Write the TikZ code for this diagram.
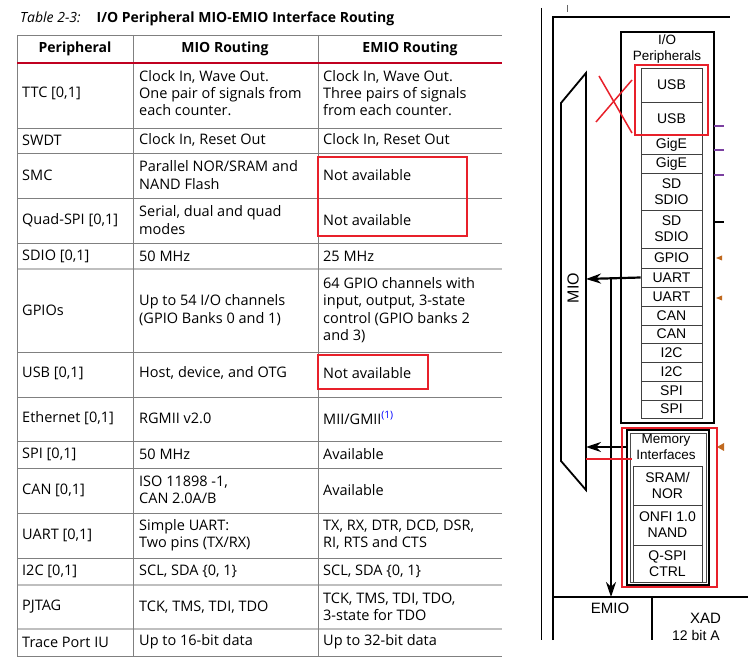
\documentclass[tikz,border=0pt]{standalone}
\usepackage{fontspec}
\setmainfont{Open Sans}
\newfontfamily\arialf{Liberation Sans}
\usetikzlibrary{arrows.meta}
\definecolor{hred}{HTML}{E8202A}
\definecolor{tred}{HTML}{C00020}
\definecolor{tgray}{HTML}{808080}
\definecolor{purp}{HTML}{7B3FA0}
\definecolor{oran}{HTML}{C06A20}
\tikzset{
 cell/.style={anchor=west,align=left,inner sep=0pt,font=\fontsize{14.5}{17.3}\selectfont},
 head/.style={inner sep=0pt,font=\bfseries\fontsize{14}{16}\selectfont},
 tl/.style={tgray,line width=0.8pt},
 hbox/.style={hred,line width=2.2pt},
 blk/.style={black,line width=1.8pt},
 cbox/.style={draw=black!75,line width=0.8pt,inner sep=0pt,align=center,font=\arialf\fontsize{14}{16}\selectfont},
 dl/.style={font=\arialf\fontsize{13.5}{15.5}\selectfont,inner sep=0pt,align=center},
 arr/.style={-{Stealth[length=15pt,width=10pt]},line width=2.2pt}
}
\begin{document}
\begin{tikzpicture}[x=1pt,y=-1pt]
\useasboundingbox (0,0) rectangle (748,668);
\fill[white] (0,0) rectangle (748,668);
% title
\node[anchor=west,inner sep=0pt,font=\fontsize{14}{16}\selectfont] (title) at (20,19) {\textit{Table 2-3:}\hspace{16pt}\textbf{I/O Peripheral MIO-EMIO Interface Routing}};
% table grid
\draw[tl] (17,35) -- (502,35);
\foreach \y in {128,153,198,243,352,397,441,468,513,558,656} \draw[tl] (17,\y) -- (502,\y);
\foreach \y in {269,585,629} \draw[black!25,line width=2pt] (17,\y) -- (502,\y);
\draw[tl] (17,35) -- (17,656);
\draw[tl] (133,35) -- (133,656);
\draw[tl] (318,35) -- (318,656);
\draw[tred,line width=2pt] (17,63) -- (502,63);
\node[head] (h1) at (75,49) {Peripheral};
\node[head] (h2) at (225,49) {MIO Routing};
\node[head] (h3) at (410,49) {EMIO Routing};
% rows
\node[cell] (a1) at (22,93) {TTC [0,1]};
\node[cell] (b1) at (139,93) {Clock In, Wave Out.\\One pair of signals from\\each counter.};
\node[cell] (c1) at (323,93) {Clock In, Wave Out.\\Three pairs of signals\\from each counter.};
\node[cell] (a2) at (22,140) {SWDT};
\node[cell] (b2) at (139,140) {Clock In, Reset Out};
\node[cell] (c2) at (323,140) {Clock In, Reset Out};
\node[cell] (a3) at (22,175) {SMC};
\node[cell] (b3) at (139,175) {Parallel NOR/SRAM and\\NAND Flash};
\node[cell] (c3) at (323,175) {Not available};
\node[cell] (a4) at (22,220) {Quad-SPI [0,1]};
\node[cell] (b4) at (139,220) {Serial, dual and quad\\modes};
\node[cell] (c4) at (323,220) {Not available};
\node[cell] (a5) at (22,256) {SDIO [0,1]};
\node[cell] (b5) at (139,256) {50 MHz};
\node[cell] (c5) at (323,256) {25 MHz};
\node[cell] (a6) at (22,310) {GPIOs};
\node[cell] (b6) at (139,310) {Up to 54 I/O channels\\(GPIO Banks 0 and 1)};
\node[cell] (c6) at (323,310) {64 GPIO channels with\\input, output, 3-state\\control (GPIO banks 2\\and 3)};
\node[cell] (a7) at (22,373) {USB [0,1]};
\node[cell] (b7) at (139,373) {Host, device, and OTG};
\node[cell] (c7) at (323,373) {Not available};
\node[cell] (a8) at (22,418) {Ethernet [0,1]};
\node[cell] (b8) at (139,418) {RGMII v2.0};
\node[cell] (c8) at (323,418) {MII/GMII\textsuperscript{\color{blue}(1)}};
\node[cell] (a9) at (22,454) {SPI [0,1]};
\node[cell] (b9) at (139,454) {50 MHz};
\node[cell] (c9) at (323,454) {Available};
\node[cell] (a10) at (22,490) {CAN [0,1]};
\node[cell] (b10) at (139,490) {ISO 11898 -1,\\CAN 2.0A/B};
\node[cell] (c10) at (323,490) {Available};
\node[cell] (a11) at (22,535) {UART [0,1]};
\node[cell] (b11) at (139,535) {Simple UART:\\Two pins (TX/RX)};
\node[cell] (c11) at (323,535) {TX, RX, DTR, DCD, DSR,\\RI, RTS and CTS};
\node[cell] (a12) at (22,571) {I2C [0,1]};
\node[cell] (b12) at (139,571) {SCL, SDA \{0, 1\}};
\node[cell] (c12) at (323,571) {SCL, SDA \{0, 1\}};
\node[cell] (a13) at (22,607) {PJTAG};
\node[cell] (b13) at (139,607) {TCK, TMS, TDI, TDO};
\node[cell] (c13) at (323,607) {TCK, TMS, TDI, TDO,\\3-state for TDO};
\node[cell] (a14) at (22,642) {Trace Port IU};
\node[cell] (b14) at (139,642) {Up to 16-bit data};
\node[cell] (c14) at (323,642) {Up to 32-bit data};
\draw[hbox] (318,157) rectangle (467,236);
\draw[hbox] (318,355) rectangle (428,389);
% ---- right diagram
\draw[black,line width=1pt] (541,8) -- (541,640);
\draw[blk] (553,640) -- (553,17) -- (730,17);
\draw[black!60,line width=0.6pt] (567,5) -- (567,12);
\draw[blk] (621,423) -- (621,32) -- (714,32) -- (714,423) -- cycle;
\node[dl] (iop) at (667,49) {I/O\\Peripherals};
\foreach \n/\t/\a/\b in {u1/USB/68/102,u2/USB/102/135,g1/GigE/135/154,g2/GigE/154/173,s1/SD\\SDIO/173/210,s2/SD\\SDIO/210/248,gp/GPIO/248/268,ua1/UART/268/287,ua2/UART/287/306,c1/CAN/306/325,c2/CAN/325/343,i1/I2C/343/362,i2/I2C/362/381,sp1/SPI/381/400,sp2/SPI/400/418}
  \node[cbox,minimum width=61pt,minimum height={\b-\a}] (p\n) at (671.5,{(\a+\b)/2}) {\t};
% MIO shape
\draw[blk] (561,461) -- (561,103) -- (586,73) -- (586,490) -- cycle;
\node[dl,rotate=90,font=\arialf\fontsize{16}{18}\selectfont] (mio) at (573,288) {MIO};
\coordinate (mioU) at (586,279);
\coordinate (mioM) at (586,447);
\draw[arr] (pua1.west) -- (mioU);
% memory box
\draw[blk] (627,430) rectangle (709,585);
\draw[black!70,line width=0.8pt] (630,433) rectangle (706,582);
\node[dl] (mem) at (666,447) {Memory\\Interfaces};
\node[cbox,minimum width=69pt,minimum height=39pt] (sram) at (667.5,485.5) {SRAM/\\NOR};
\node[cbox,minimum width=69pt,minimum height=40pt] (onfi) at (667.5,525) {ONFI 1.0\\NAND};
\node[cbox,minimum width=69pt,minimum height=37pt] (qspi) at (667.5,563.5) {Q-SPI\\CTRL};
\draw[arr] (627,447) -- (mioM);
% emio
\draw[blk] (553,597) -- (748,597);
\draw[blk] (652,597) -- (652,640);
\coordinate (emioT) at (611,597);
\draw[arr] (611,279) -- (emioT);
\node[dl,font=\arialf\fontsize{15}{17}\selectfont] (emio) at (610,608) {EMIO};
\node[dl,font=\arialf\fontsize{15}{17}\selectfont,anchor=west] (xad) at (690,618) {XAD};
\node[dl,font=\arialf\fontsize{14}{16}\selectfont,anchor=west] (bit) at (672,635) {12 bit A};
% right side stubs
\foreach \y in {126,150,175} \draw[purp,line width=2pt] (714,\y) -- (724,\y);
\draw[black,line width=2pt] (714,222) -- (724,222);
\foreach \y in {258,298} \fill[oran] (716,\y) -- (722,\y-2.5) -- (722,\y+2.5) -- cycle;
\fill[oran] (717,447) -- (724,443) -- (724,451) -- cycle;
% red marks
\draw[hbox] (635,65) rectangle (708,135);
\draw[hred,line width=1.5pt] (599,76) -- (632,133);
\draw[hred,line width=1.5pt] (596,122) -- (632,80);
\draw[hbox] (622,428) rectangle (717,587);
\draw[hred,line width=2pt] (586,459) -- (632,459);
\end{tikzpicture}
\end{document}
